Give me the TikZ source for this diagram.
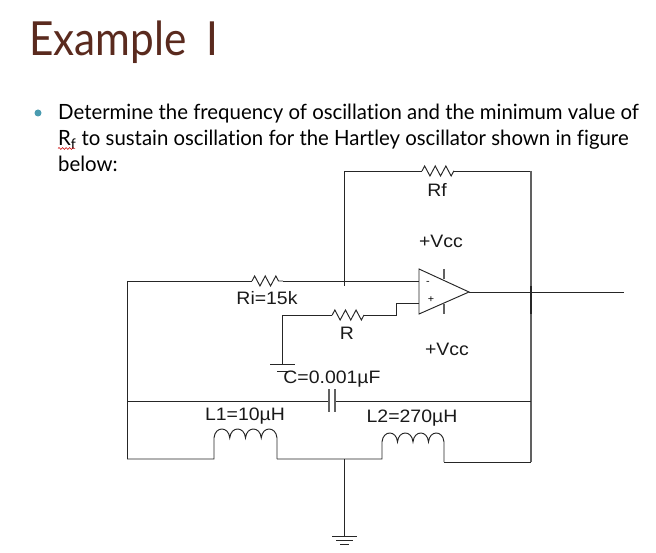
\documentclass[tikz,border=0pt]{standalone}
\usepackage{fontspec}
\usepackage{tikz}
\usetikzlibrary{decorations.pathmorphing}
\setmainfont{Lato}
\newfontfamily\titlefont[FakeStretch=0.9,Ligatures=NoCommon]{Lato}
\newfontfamily\bodyfont[FakeStretch=0.97,Ligatures=NoCommon]{Lato}
\newfontfamily\labfont[FakeStretch=1.08]{Liberation Sans}
\definecolor{titlebrown}{HTML}{5A2A1E}
\definecolor{bullet}{HTML}{4A9BB0}
\tikzset{
  wire/.style={line width=0.95pt,black!85},
  pale/.style={line width=1.1pt,black!62},
  res/.style={wire,decorate,decoration={zigzag,segment length=10.6pt,amplitude=5pt}},
  lab/.style={font=\labfont\fontsize{18}{20}\selectfont,black!90,inner sep=0pt},
  sign/.style={font=\labfont\fontsize{10}{10}\selectfont,inner sep=0pt},
  body/.style={font=\bodyfont\fontsize{21}{25}\selectfont,anchor=base west,inner sep=0pt},
}
\begin{document}
\begin{tikzpicture}[x=1pt,y=-1pt]
 \useasboundingbox (0,0) rectangle (656,553);
 \node[anchor=base west,inner sep=0pt,text=titlebrown,font=\titlefont\fontsize{47}{50}\selectfont] (title) at (29,56) {Example\hspace{0.42em}I};
 \node[circle,fill=bullet,inner sep=0pt,minimum size=7pt] (dot) at (38,113) {};
 \node[body] (t1) at (58,120) {Determine the frequency of oscillation and the minimum value of};
 \node[body] (t2) at (58,146) {R\textsubscript{f} to sustain oscillation for the Hartley oscillator shown in figure};
 \node[body] (t3) at (58,172) {below:};
 \coordinate (w1) at (58,148.5);
 \coordinate (w2) at (75,148.5);
 \draw[red!80!black,line width=0.5pt,decorate,decoration={snake,segment length=3.5pt,amplitude=1pt}] (w1) -- (w2);

 \coordinate (a1) at (127,281);
 \coordinate (a2) at (252,281);
 \coordinate (a3) at (283,281);
 \coordinate (a4) at (344,281);
 \coordinate (a5) at (344,286);
 \coordinate (a6) at (344,171);
 \coordinate (a7) at (422,171);
 \coordinate (a8) at (454,171);
 \coordinate (a9) at (531,171);
 \coordinate (b1) at (419,281);
 \coordinate (b2) at (419,303);
 \coordinate (b3) at (396,303);
 \coordinate (b4) at (396,315);
 \coordinate (b5) at (364,315);
 \coordinate (b6) at (332,315);
 \coordinate (b7) at (282,315);
 \coordinate (b8) at (282,364);
 \coordinate (ot) at (419,269);
 \coordinate (ob) at (419,314);
 \coordinate (oa) at (469,292);
 \coordinate (c1) at (624,292);
 \coordinate (c2) at (531,286);
 \coordinate (c3) at (531,314);
 \coordinate (c4) at (531,401);
 \coordinate (c5) at (531,462);
 \coordinate (c6) at (127,401);
 \coordinate (c7) at (329,401);
 \coordinate (c8) at (335,401);
 \coordinate (c9) at (127,459);
 \coordinate (d1) at (214,459);
 \coordinate (d2) at (277,459);
 \coordinate (d3) at (344,459);
 \coordinate (d4) at (382,459);
 \coordinate (d5) at (444,462);
 \coordinate (d6) at (344,536);

 \draw[wire] (a1) -- (a2);
 \draw[res] (a2) -- (a3);
 \draw[wire] (a3) -- (b1);
 \draw[wire] (a5) -- (a6) -- (a7);
 \draw[res] (a7) -- (a8);
 \draw[wire] (a8) -- (a9);
 \draw[pale] (a9) -- (c2);
 \draw[wire,line width=1.2pt] (c2) -- (c3);
 \draw[pale] (c3) -- (c5);
 \draw[wire] (c5) -- (d5);
 \draw[wire] (oa) -- (c1);
 \draw[wire] (ot) -- (oa) -- (ob) -- cycle;
 \draw[pale] (444,269) -- (444,279);
 \draw[pale] (444,304) -- (444,314);
 \draw[wire] (b2) -- (b3) -- (b4) -- (b5);
 \draw[res] (b5) -- (b6);
 \draw[wire] (b6) -- (b7) -- (b8);
 \draw[wire] (270,364) -- (295,364);
 \draw[wire] (277,371) -- (289,371);

 \draw[wire] (a1) -- (c9);
 \draw[wire] (c6) -- (c7);
 \draw[wire] (c8) -- (c4);
 \draw[pale] (329,389) -- (329,412);
 \draw[pale] (335,389) -- (335,412);

 \draw[wire] (c9) -- (d1) -- ++(0,-21)
   \foreach \i in {1,...,4} { .. controls +(1,-12) and +(-1,-12) .. ++(15.75,0) } -- (d2);
 \draw[wire] (d2) -- (d4) -- ++(0,-17)
   \foreach \i in {1,...,4} { .. controls +(1,-12) and +(-1,-12) .. ++(15.5,0) } -- (d5);
 \draw[wire] (d3) -- (d6);
 \draw[wire] (332,536) -- (357,536);
 \draw[wire] (336,540) -- (353,540);
 \draw[wire] (340,544) -- (349,544);

 \node[lab] (l1) at (437,190) {Rf};
 \node[lab] (l2) at (441,241) {+Vcc};
 \node[lab] (l3) at (267,298) {Ri=15k};
 \node[lab] (l4) at (347,333) {R};
 \node[lab] (l5) at (447,349) {+Vcc};
 \node[lab] (l6) at (332,379) {C=0.001µF};
 \node[lab] (l7) at (245,416) {L1=10µH};
 \node[lab] (l8) at (412,418) {L2=270µH};
 \node[sign] (s1) at (428,283) {-};
 \node[sign] (s2) at (431,299.5) {+};
\end{tikzpicture}
\end{document}
